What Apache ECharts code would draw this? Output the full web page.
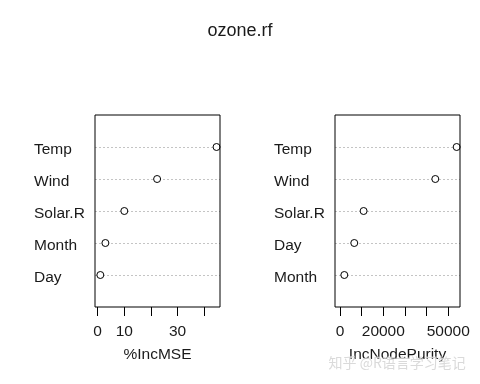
<!DOCTYPE html>
<html>
<head>
<meta charset="utf-8">
<script src="https://cdn.jsdelivr.net/npm/echarts@6/dist/echarts.min.js"></script>
<style>html,body{margin:0;padding:0;background:#fff}#c{width:480px;height:384px}</style>
</head>
<body>
<div id="c"></div>
<script>
// Panel 1: %IncMSE (top to bottom)
const vars1 = ['Temp', 'Wind', 'Solar.R', 'Month', 'Day'];
const incMSE = [44.6, 22.3, 10.0, 2.9, 1.0];
const ticks1 = [0, 10, 20, 30, 40];
const tickLabels1 = [0, 10, 30];

// Panel 2: IncNodePurity (top to bottom)
const vars2 = ['Temp', 'Wind', 'Solar.R', 'Day', 'Month'];
const incNodePurity = [53850, 44000, 10900, 6600, 2000];
const ticks2 = [0, 10000, 20000, 30000, 40000, 50000];
const tickLabels2 = [0, 20000, 50000];

const title = 'ozone.rf';
const xName1 = '%IncMSE';
const xName2 = 'IncNodePurity';
const watermark = '知乎 @R语言学习笔记';

const FONT = 'Liberation Sans, Arial, sans-serif';
const TXT = '#1a1a1a';
const n = vars1.length;

function yAxisFor(vars, gi) {
  return {
    type: 'value', gridIndex: gi, min: 0, max: n + 1, interval: 1,
    axisLine: {show: false}, axisTick: {show: false}, splitLine: {show: false},
    axisLabel: {
      align: 'left', margin: 61, color: TXT,
      formatter: v => (v >= 1 && v <= n) ? '{a|' + vars[n - v] + '}' : '',
      rich: {a: {fontSize: 15.5, color: TXT, fontFamily: FONT, padding: [6, 0, 0, 0]}}
    }
  };
}
function xAxisFor(gi, min, max, ticks, labels, name) {
  return {
    type: 'value', gridIndex: gi, min: min, max: max,
    axisLine: {show: false},
    splitLine: {show: false},
    axisTick: {show: true, inside: false, length: 9, customValues: ticks, lineStyle: {color: '#000', width: 1}},
    axisLabel: {customValues: labels, margin: 17, fontSize: 15.5, color: TXT, fontFamily: FONT,
      formatter: v => String(v)},
    name: name, nameLocation: 'middle', nameGap: 40,
    nameTextStyle: {fontSize: 15.5, color: TXT, fontFamily: FONT}
  };
}
function seriesFor(vals, gi) {
  return {
    type: 'scatter', xAxisIndex: gi, yAxisIndex: gi,
    data: vals.map((v, i) => [v, n - i]),
    symbol: 'circle', symbolSize: 7,
    itemStyle: {color: '#fff', borderColor: '#000', borderWidth: 1, opacity: 1},
    emphasis: {disabled: true},
    markLine: {
      silent: true, symbol: 'none', z: 1,
      lineStyle: {type: [2, 2], color: '#c4c4c4', width: 1},
      label: {show: false},
      emphasis: {disabled: true},
      data: vals.map((v, i) => ({yAxis: n - i}))
    },
    z: 3
  };
}

const chart = echarts.init(document.getElementById('c'), null, {renderer: 'canvas'});
chart.setOption({
  animation: false,
  backgroundColor: '#fff',
  title: {text: title, left: 'center', top: 17,
    textStyle: {fontSize: 18, fontWeight: 'normal', color: TXT, fontFamily: FONT}},
  grid: [
    {left: 95, top: 115, width: 125, height: 192, show: true, borderColor: '#000', borderWidth: 1, backgroundColor: 'transparent', z: 4},
    {left: 335, top: 115, width: 125, height: 192, show: true, borderColor: '#000', borderWidth: 1, backgroundColor: 'transparent', z: 4}
  ],
  xAxis: [
    xAxisFor(0, -1.0, 45.9, ticks1, tickLabels1, xName1),
    xAxisFor(1, -2300, 55400, ticks2, tickLabels2, xName2)
  ],
  yAxis: [yAxisFor(vars1, 0), yAxisFor(vars2, 1)],
  series: [seriesFor(incMSE, 0), seriesFor(incNodePurity, 1)],
  graphic: [{
    type: 'text', left: 328, top: 355, z: 100, silent: true,
    style: {text: watermark, fontSize: 14, fill: 'rgba(205,205,205,0.75)',
      stroke: 'rgba(255,255,255,0.5)', lineWidth: 1,
      fontFamily: 'Noto Sans CJK SC, sans-serif'}
  }]
});
</script>
</body>
</html>
